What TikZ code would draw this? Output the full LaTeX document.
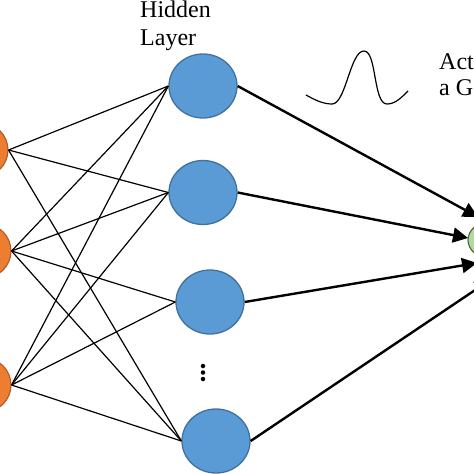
\documentclass[tikz,border=0pt]{standalone}
\usepackage{fontspec}
\setmainfont{Liberation Serif}
\usetikzlibrary{arrows.meta,shapes.geometric}
\definecolor{inp}{HTML}{ED7D31}
\definecolor{inpb}{HTML}{AE5A21}
\definecolor{hid}{HTML}{5B9BD5}
\definecolor{hidb}{HTML}{41719C}
\definecolor{outc}{HTML}{B5D7A0}
\definecolor{outb}{HTML}{3F6B2A}
\tikzset{
 inputn/.style={ellipse,draw=inpb,fill=inp,line width=1.1pt,minimum width=54pt,minimum height=54pt,inner sep=0pt},
 hiddenn/.style={ellipse,draw=hidb,fill=hid,line width=1.3pt,minimum width=68pt,minimum height=64pt,inner sep=0pt},
 outn/.style={ellipse,draw=outb,fill=outc,line width=1.1pt,minimum width=42pt,minimum height=36pt,inner sep=0pt},
 thin link/.style={black,line width=1.2pt},
 thick link/.style={black,line width=2.4pt,-{Triangle[length=15pt,width=15pt]}},
 lbl/.style={font=\fontsize{24}{28}\selectfont,inner sep=0pt,anchor=base west},
 dotm/.style={circle,fill=black,minimum size=4.5pt,inner sep=0pt}
}
\begin{document}
\begin{tikzpicture}[x=1pt,y=-1pt]
\useasboundingbox (0,0) rectangle (474,474);
\begin{scope}
\clip (0,0) rectangle (474,474);
\node[inputn] (i1) at (-19,150) {};
\node[inputn] (i2) at (-16,251) {};
\node[inputn] (i3) at (-16,385) {};
\node[hiddenn] (h1) at (203,86) {};
\node[hiddenn] (h2) at (203,192.5) {};
\node[hiddenn] (h3) at (210,302) {};
\node[hiddenn] (h4) at (216,441) {};
\node[outn] (o) at (489,240) {};
\coordinate (p1) at (478,217);
\coordinate (p2) at (468,238);
\coordinate (p3) at (477,263);
\coordinate (p4) at (490,280);
\foreach \a/\b in {i1/h1,i1/h2,i1/h4,i2/h1,i2/h2,i2/h3,i2/h4,i3/h1,i3/h2,i3/h3,i3/h4}{
  \draw[thin link] (\a.east) -- (\b.west);
}
\draw[thick link] (h1.east) -- (p1);
\draw[thick link] (h2.east) -- (p2);
\draw[thick link] (h3.east) -- (p3);
\draw[thick link] (h4.east) -- (p4);
\end{scope}
\node[dotm] (d1) at (203,366) {};
\node[dotm] (d2) at (203,372.5) {};
\node[dotm] (d3) at (203,379) {};
\node[lbl] (t1) at (140,17.5) {Hidden};
\node[lbl] (t2) at (140,45) {Layer};
\node[lbl] (t3) at (439,69) {Act};
\node[lbl] (t4) at (439,95) {a G};
\draw[line width=1.2pt] (306,95) .. controls (315,100) and (323,104) .. (332,104)
 .. controls (346,104) and (350,51) .. (364,51)
 .. controls (377,51) and (373,104) .. (387,104)
 .. controls (395,104) and (401,98) .. (408,91);
\end{tikzpicture}
\end{document}
